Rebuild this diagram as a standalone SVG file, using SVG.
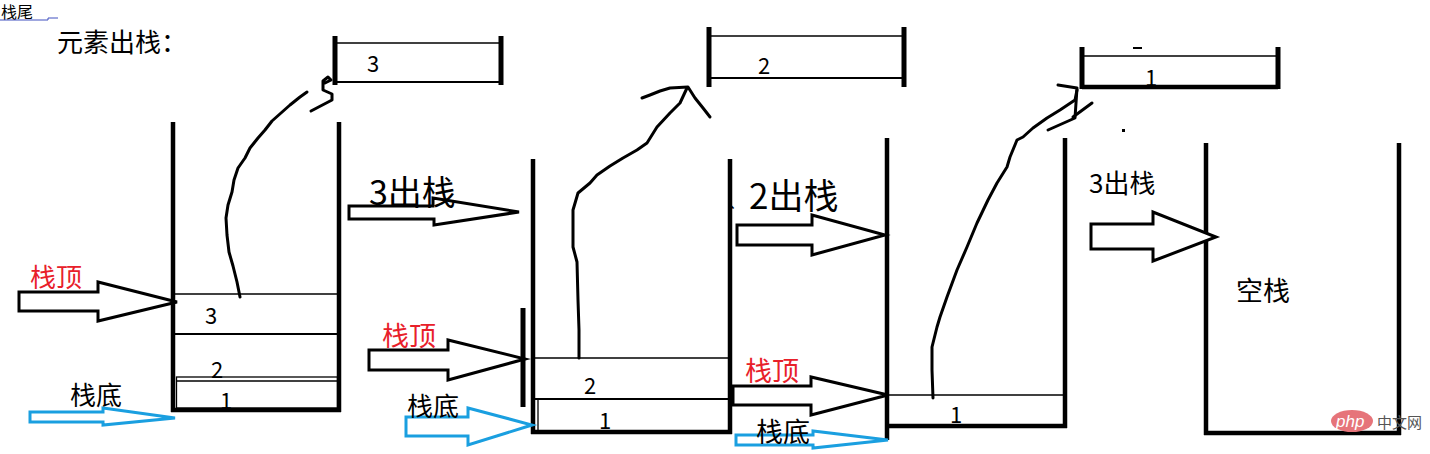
<svg xmlns="http://www.w3.org/2000/svg" width="1430" height="454" viewBox="0 0 1430 454">
<style>
text{font-family:"Noto Sans CJK SC","Noto Sans",sans-serif;fill:#000}
.wall{stroke:#000;stroke-width:4.5;fill:none;stroke-linecap:butt}
.bar{stroke:#000;stroke-width:5;fill:none}
.thin{stroke:#000;stroke-width:1.3;fill:none}
.mid{stroke:#000;stroke-width:2;fill:none}
.barr{fill:#fff;stroke:#000;stroke-width:3;stroke-linejoin:miter}
.barrb{fill:#fff;stroke:#1a9fe0;stroke-width:3;stroke-linejoin:miter}
.curve{fill:none;stroke:#000;stroke-width:3;stroke-linejoin:round;stroke-linecap:round}
.red{fill:#e8202a}
.d{font-size:22px}
</style>
<rect width="1430" height="454" fill="#fff"/>

<g id="title">
<text x="1" y="18" font-size="16">栈尾</text>
<polyline points="0,20 48,20 48,18 58,18" fill="none" stroke="#4050c0" stroke-width="1"/>
<text x="57" y="52" font-size="26">元素出栈：</text>
</g>

<g id="stack1">
<line class="wall" x1="173" y1="122" x2="173" y2="412"/>
<line class="wall" x1="339" y1="122" x2="339" y2="412"/>
<line class="wall" x1="171" y1="410" x2="341" y2="410"/>
<line class="thin" x1="175" y1="294" x2="337" y2="294"/>
<line class="mid" x1="175" y1="334" x2="337" y2="334"/>
<rect x="176.5" y="377" width="161" height="31" class="thin"/>
<line class="thin" x1="176" y1="381" x2="337" y2="381"/>
<text x="205" y="324" class="d">3</text>
<text x="211" y="378" class="d">2</text>
<text x="220" y="409" class="d">1</text>
</g>

<g id="popped3">
<line class="bar" x1="335" y1="36" x2="335" y2="85"/>
<line class="bar" x1="501" y1="36" x2="501" y2="85"/>
<line class="thin" x1="335" y1="43" x2="501" y2="43"/>
<line class="mid" x1="335" y1="82" x2="501" y2="82"/>
<text x="367" y="72" class="d">3</text>
</g>

<g id="stack2">
<line class="wall" x1="533" y1="159" x2="533" y2="434"/>
<line class="wall" x1="730" y1="159" x2="730" y2="434"/>
<line class="wall" x1="531" y1="432" x2="732" y2="432"/>
<line class="bar" x1="523" y1="308" x2="523" y2="407"/>
<line class="thin" x1="535" y1="358" x2="728" y2="358"/>
<line class="mid" x1="535" y1="399" x2="728" y2="399"/>
<line class="thin" x1="538" y1="399" x2="538" y2="430"/>
<text x="584" y="394" class="d">2</text>
<text x="599" y="429" class="d">1</text>
</g>

<g id="popped2">
<line class="bar" x1="709" y1="27" x2="709" y2="87"/>
<line class="bar" x1="904" y1="27" x2="904" y2="87"/>
<line class="thin" x1="709" y1="36" x2="904" y2="36"/>
<line class="mid" x1="709" y1="78" x2="904" y2="78"/>
<text x="758" y="74" class="d">2</text>
</g>

<g id="stack3">
<line class="wall" x1="887" y1="138" x2="887" y2="440"/>
<line class="wall" x1="1065" y1="138" x2="1065" y2="428"/>
<line class="wall" x1="885" y1="426" x2="1067" y2="426"/>
<line class="thin" x1="889" y1="395" x2="1063" y2="395"/>
<text x="950" y="423" class="d">1</text>
</g>

<g id="popped1">
<line class="bar" x1="1082" y1="47" x2="1082" y2="89"/>
<line class="bar" x1="1278" y1="47" x2="1278" y2="89"/>
<line class="thin" x1="1082" y1="56" x2="1278" y2="56"/>
<line class="wall" x1="1082" y1="87" x2="1278" y2="87"/>
<line class="mid" x1="1133" y1="48" x2="1142" y2="48"/>
<text x="1145" y="86" class="d">1</text>
<rect x="1122" y="129" width="3" height="3" fill="#000"/>
</g>

<g id="stack4">
<line class="wall" x1="1206" y1="143" x2="1206" y2="435"/>
<line class="wall" x1="1399" y1="143" x2="1399" y2="435"/>
<line class="wall" x1="1204" y1="433" x2="1401" y2="433"/>
<text x="1236" y="301" font-size="27">空栈</text>
</g>

<g id="connectors">
<polygon class="barr" points="19,292 98,292 98,282 177,302 98,321 98,311 19,311"/>
<polygon class="barrb" points="30,412 103,412 103,408 175,418 103,425 103,422 30,422"/>
<polygon class="barr" points="349,206 433,206 433,198 519,212 434,225 434,219 349,219"/>
<polygon class="barr" points="369,350 448,350 448,340 525,359 448,380 448,370 369,370"/>
<polygon class="barrb" points="406,417 468,417 468,408 532,425 468,445 468,436 406,436"/>
<polygon class="barr" points="737,225 812,225 812,215 885,235 812,255 812,245 737,245"/>
<polygon class="barr" points="733,386 811,386 811,377 888,395 811,415 811,405 733,405"/>
<polygon class="barrb" points="736,435 813,435 813,431 888,440 813,448 813,445 736,445"/>
<polygon class="barr" points="1091,224 1153,224 1153,212 1216,237 1153,261 1153,249 1091,249"/>

<polyline class="curve" points="240,297 237,282 233,266 229,252 227,235 226,218 228,205 232,192 234,180 238,168 245,158 250,148 258,138 265,130 272,121 281,113 290,105 300,97 307,92"/>
<polyline class="curve" points="311,111 332,100 332,94 323,90 323,81 328,77 331,80 325,83"/>

<polyline class="curve" points="579,358 579,330 578,300 577,262 573,247 573,210 578,193 590,183 597,175 610,166 623,158 637,150 647,143 657,127 670,113 680,103 687,88"/>
<polyline class="curve" points="642,98 650,95 660,91 670,88 688,87 695,98 703,108 710,117"/>

<polyline class="curve" points="933,398 932,370 932,347 937,327 940,317 947,297 957,270 967,247 977,223 988,200 997,183 1007,167 1010,157 1017,140 1023,137 1033,128 1047,118 1060,110 1075,100 1077,90"/>
<polyline class="curve" points="1058,85 1077,88 1075,118 1048,130"/>
<polyline class="curve" points="1073,117 1092,103"/>
</g>

<g id="labels">
<text x="30" y="287" font-size="26" class="red">栈顶</text>
<text x="70" y="405" font-size="26">栈底</text>
<text x="369" y="205" font-size="34">3出栈</text>
<text x="382" y="346" font-size="27" class="red">栈顶</text>
<text x="407" y="416" font-size="26">栈底</text>
<text x="728" y="208" font-size="18">、</text>
<text x="749" y="209" font-size="35">2出栈</text>
<text x="745" y="381" font-size="27" class="red">栈顶</text>
<text x="756" y="442" font-size="27">栈底</text>
<text x="1089" y="193" font-size="26">3出栈</text>
</g>

<g id="watermark">
<ellipse cx="1352" cy="421" rx="21" ry="11" fill="#e6747a"/>
<text x="1336" y="427" font-size="17" font-style="italic" style="fill:#fff;font-family:'Liberation Sans',sans-serif">php</text>
<text x="1377" y="428" font-size="15" style="fill:#555">中文网</text>
</g>
</svg>
